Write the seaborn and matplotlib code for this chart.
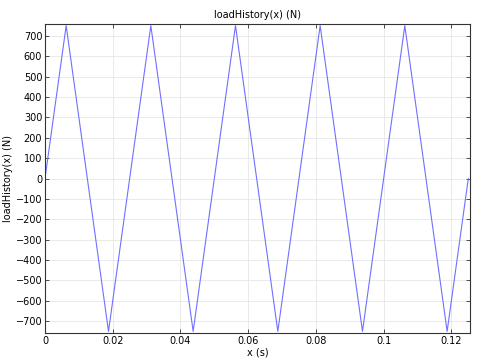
import matplotlib
matplotlib.use("Agg")
import matplotlib.pyplot as plt
import seaborn as sns
import pandas as pd

time_s = [0, 0.00625, 0.01875, 0.03125, 0.04375, 0.05625, 0.06875,
          0.08125, 0.09375, 0.10625, 0.11875, 0.125]
load_N = [0, 750, -750, 750, -750, 750, -750, 750, -750, 750, -750, 0]
x_ticks = [0, 0.02, 0.04, 0.06, 0.08, 0.1, 0.12]
x_tick_labels = ["0", "0.02", "0.04", "0.06", "0.08", "0.1", "0.12"]
y_ticks = list(range(-700, 701, 100))

sns.set_theme(style="white")
plt.rcParams['font.family'] = ['DejaVu Sans']
plt.rcParams['text.color'] = 'black'
plt.rcParams['axes.labelcolor'] = 'black'
plt.rcParams['xtick.color'] = 'black'
plt.rcParams['ytick.color'] = 'black'

df = pd.DataFrame({"x": time_s, "y": load_N})

fig = plt.figure(figsize=(4.83, 3.63), dpi=100)
ax = fig.add_axes([45/483, 1-333/363, 425/483, 309/363])
sns.lineplot(data=df, x="x", y="y", ax=ax, color="#7070ff", linewidth=0.8)

ax.set_xlim(0, 0.1255)
ax.set_ylim(-758, 758)
ax.set_xticks(x_ticks)
ax.set_xticklabels(x_tick_labels)
ax.set_yticks(y_ticks)
ax.grid(True, color="#e6e6e6", linewidth=0.6)
ax.set_axisbelow(True)
for s in ax.spines.values():
    s.set_color("#333333")
    s.set_linewidth(0.8)
ax.tick_params(direction="in", length=3, width=0.6, color="#333333",
               labelcolor="black", labelsize=7, top=True, right=True, pad=2,
               labeltop=False, labelright=False, left=True, bottom=True)
ax.set_xlabel("x (s)", fontsize=7, labelpad=1, color="black")
ax.set_ylabel("loadHistory(x) (N)", fontsize=7, labelpad=2, color="black")
ax.set_title("loadHistory(x) (N)", fontsize=7, pad=4, color="black")

fig.savefig("out.png", dpi=100)
